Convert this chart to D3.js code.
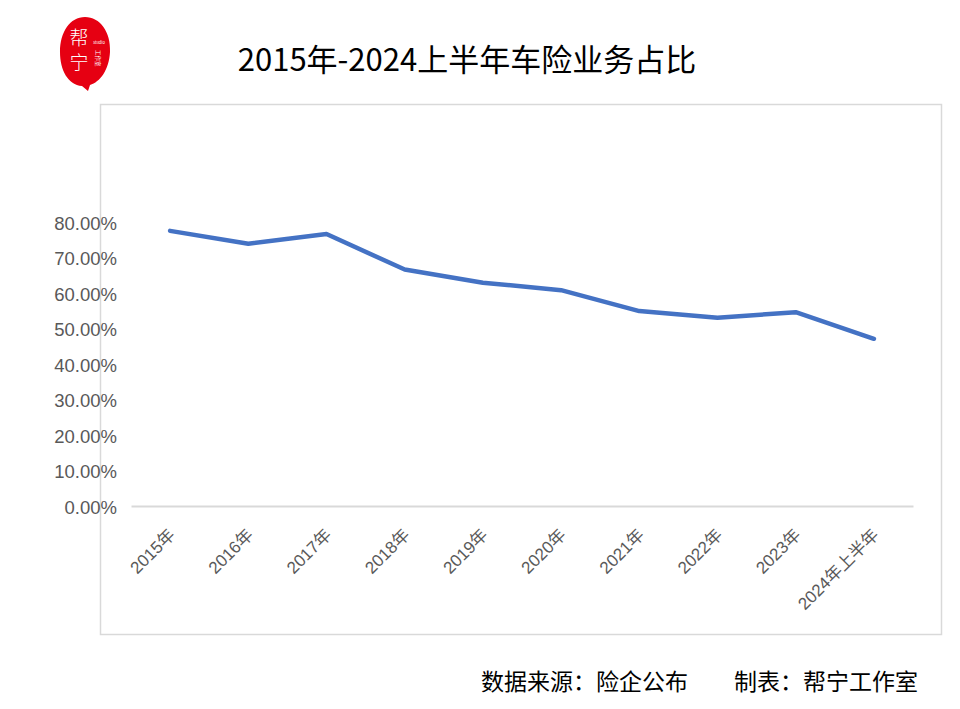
<!DOCTYPE html>
<html><head><meta charset="utf-8">
<script src="https://cdn.jsdelivr.net/npm/d3@7"></script>
<style>body{margin:0;background:#fff;} svg{display:block;font-family:"Noto Sans CJK SC","Liberation Sans",sans-serif;}</style>
</head><body>
<script>
const categories = ["2015年","2016年","2017年","2018年","2019年","2020年","2021年","2022年","2023年","2024年上半年"];
const shares = [0.775, 0.739, 0.766, 0.666, 0.629, 0.608, 0.549, 0.530, 0.546, 0.471];
const yTicks = [0, 0.1, 0.2, 0.3, 0.4, 0.5, 0.6, 0.7, 0.8];
const title = "2015年-2024上半年车险业务占比";
const footerSource = "数据来源：险企公布";
const footerMaker = "制表：帮宁工作室";

const W = 960, H = 709;
const svg = d3.select("body").append("svg").attr("width", W).attr("height", H);

// frame
svg.append("rect").attr("x", 100.5).attr("y", 104.5).attr("width", 841).attr("height", 530)
  .attr("fill", "none").attr("stroke", "#d9d9d9").attr("stroke-width", 1.5);

// logo
const logo = svg.append("g");
logo.append("path")
  .attr("d", "M85,17 C100,17 111,32 110,52 C109,70 100,82 90,85 L88,91 L82,86 C68,85 60,70 60,52 C60,32 70,17 85,17 Z")
  .attr("fill", "#e60012");
logo.append("text").attr("x", 79).attr("y", 45).attr("text-anchor", "middle")
  .attr("font-size", 19).attr("fill", "#fff").attr("font-weight", 300).text("帮");
logo.append("text").attr("x", 79).attr("y", 70).attr("text-anchor", "middle")
  .attr("font-size", 19).attr("fill", "#fff").attr("font-weight", 300).text("宁");
logo.append("text").attr("x", 99).attr("y", 44).attr("font-size", 4).attr("fill", "#fff").attr("text-anchor","middle").text("studio");
logo.append("text").attr("transform", "translate(96,50) rotate(90)").attr("font-size", 5.5).attr("fill", "#fff").text("工作室");

// title
svg.append("text").attr("x", 467).attr("y", 71).attr("text-anchor", "middle")
  .attr("font-size", 31).attr("font-weight", 400).attr("fill", "#000").text(title);

// scales
const x = d3.scaleBand().domain(categories).range([131, 913]).padding(0);
const y = d3.scaleLinear().domain([0, 0.8]).range([506, 222]);

// baseline axis
const xAxis = svg.append("g").attr("transform", `translate(0,${y(0)})`)
  .call(d3.axisBottom(x).tickSize(0).tickPadding(0));
xAxis.select(".domain").attr("stroke", "#d9d9d9").attr("stroke-width", 2);
xAxis.selectAll(".tick text")
  .attr("font-size", 17).attr("fill", "#595959")
  .attr("font-family", "'Liberation Sans','Noto Sans CJK SC',sans-serif")
  .attr("text-anchor", "end")
  .attr("dy", null)
  .attr("transform", "translate(6,30) rotate(-45)");

// y axis labels
const yAxis = svg.append("g").attr("transform", "translate(117,0)")
  .call(d3.axisLeft(y).tickValues(yTicks).tickFormat(d3.format(".2%")).tickSize(0).tickPadding(0));
yAxis.select(".domain").remove();
yAxis.selectAll(".tick text").attr("font-size", 18.5).attr("fill", "#595959")
  .attr("font-family", "'Liberation Sans',sans-serif").attr("dy", "0.4em");

// line
const line = d3.line().x((d, i) => x(categories[i]) + x.bandwidth() / 2).y(d => y(d));
svg.append("path").datum(shares).attr("d", line)
  .attr("fill", "none").attr("stroke", "#4472C4").attr("stroke-width", 4.5)
  .attr("stroke-linejoin", "round").attr("stroke-linecap", "round");

// footer
svg.append("text").attr("x", 688).attr("y", 690).attr("text-anchor", "end")
  .attr("font-size", 23).attr("fill", "#000").text(footerSource);
svg.append("text").attr("x", 918).attr("y", 690).attr("text-anchor", "end")
  .attr("font-size", 23).attr("fill", "#000").text(footerMaker);
</script>
</body></html>
